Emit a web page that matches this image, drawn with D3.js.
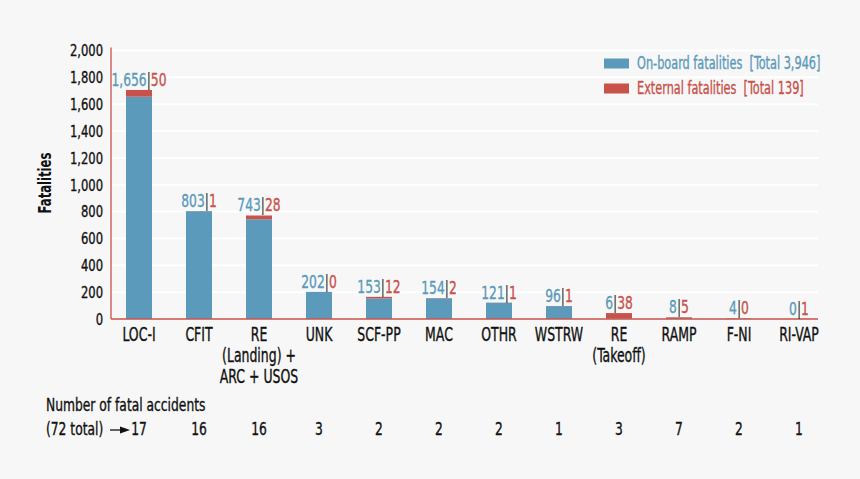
<!DOCTYPE html>
<html><head><meta charset="utf-8">
<script src="https://cdnjs.cloudflare.com/ajax/libs/d3/7.8.5/d3.min.js"></script>
<style>
html,body{margin:0;padding:0;background:#f7f7f7;}
svg text{font-family:"DejaVu Sans",sans-serif;font-stretch:condensed;stroke-width:0.35px;}
</style></head>
<body><svg id="c" width="860" height="479"></svg>
<script>
const categories = ["LOC-I","CFIT","RE\n(Landing) +\nARC + USOS","UNK","SCF-PP","MAC","OTHR","WSTRW","RE\n(Takeoff)","RAMP","F-NI","RI-VAP"];
const onboard = [1656,803,743,202,153,154,121,96,6,8,4,0];
const external = [50,1,28,0,12,2,1,1,38,5,0,1];
const accidents = [17,16,16,3,2,2,2,1,3,7,2,1];
const yTicks = [0,200,400,600,800,1000,1200,1400,1600,1800,2000];
const legendLabels = ["On-board fatalities\u00a0\u00a0[Total 3,946]","External fatalities\u00a0\u00a0[Total 139]"];

const BLUE="#5b9aba", RED="#c8524a", AXIS="#c8524a", INK="#111";
const svg=d3.select("#c");
svg.append("rect").attr("width",860).attr("height",479).attr("fill","#f7f7f7");

function squeeze(sel,s){
  sel.each(function(){
    const t=d3.select(this);
    const ax=+t.attr("x")||0;
    t.attr("transform",`translate(${ax},0) scale(${s},1) translate(${-ax},0)`);
  });
}

const x=d3.scaleBand().domain(categories).range([109,829]).paddingInner(0.5667).paddingOuter(0.2833);
const y=d3.scaleLinear().domain([0,2000]).range([319,50.5]);
const xEnd=818, xStart=111;
const cx=c=>x(c)+x.bandwidth()/2;

svg.append("g").selectAll("line").data(yTicks.slice(1)).join("line")
  .attr("x1",xStart).attr("x2",xEnd).attr("y1",d=>y(d)).attr("y2",d=>y(d))
  .attr("stroke","#ffffff").attr("stroke-width",2);

const yAxis=d3.axisLeft(y).tickValues(yTicks).tickSize(0).tickPadding(8).tickFormat(d3.format(","));
const gy=svg.append("g").attr("transform",`translate(${xStart},0)`).call(yAxis);
gy.attr("font-family",null).attr("font-size",null);
gy.select(".domain").attr("stroke",AXIS).attr("stroke-width",1.3).attr("d",`M0,${y(2000)-3}V${y(0)}`);
gy.selectAll("text").attr("font-size",16.5).attr("fill",INK).attr("stroke",INK);
squeeze(gy.selectAll("text"),0.78);

svg.append("text").attr("transform","translate(51,183) rotate(-90) scale(0.72,1)").attr("text-anchor","middle")
  .attr("font-size",18).attr("font-weight","bold").attr("fill",INK).text("Fatalities");

const data=categories.map((c,i)=>({c,on:onboard[i],ex:external[i],acc:accidents[i]}));
const bars=svg.append("g");
bars.selectAll("rect.on").data(data).join("rect").attr("class","on")
  .attr("x",d=>x(d.c)).attr("width",x.bandwidth())
  .attr("y",d=>y(d.on)).attr("height",d=>y(0)-y(d.on)).attr("fill",BLUE);
bars.selectAll("rect.ex").data(data).join("rect").attr("class","ex")
  .attr("x",d=>x(d.c)).attr("width",x.bandwidth())
  .attr("y",d=>y(d.on+d.ex)).attr("height",d=>y(d.on)-y(d.on+d.ex)).attr("fill",RED);

svg.append("line").attr("x1",xStart).attr("x2",xEnd).attr("y1",y(0)).attr("y2",y(0))
  .attr("stroke",AXIS).attr("stroke-width",1.3);

const fmt=d3.format(",");
const vl=svg.append("g").selectAll("text").data(data).join("text")
  .attr("x",d=>cx(d.c)).attr("y",d=>y(d.on+d.ex)-4)
  .attr("text-anchor","middle").attr("font-size",18);
vl.append("tspan").attr("fill",BLUE).attr("stroke",BLUE).text(d=>fmt(d.on));
vl.append("tspan").attr("fill","#222").text("|");
vl.append("tspan").attr("fill",RED).attr("stroke",RED).text(d=>fmt(d.ex));
squeeze(vl,0.76);

const cl=svg.append("g").selectAll("text").data(data).join("text")
  .attr("x",d=>cx(d.c)).attr("y",341)
  .attr("text-anchor","middle").attr("font-size",19).attr("fill",INK).attr("stroke",INK);
cl.selectAll("tspan").data(d=>d.c.split("\n").map(t=>({t,x:cx(d.c)}))).join("tspan")
  .attr("x",d=>d.x).attr("dy",(d,i)=>i?21:0).text(d=>d.t);
squeeze(cl,0.73);

const bt=svg.append("g").attr("fill",INK).attr("stroke",INK).attr("font-size",18);
bt.append("text").attr("x",46).attr("y",411.5).text("Number of fatal accidents");
bt.append("text").attr("x",46).attr("y",435).text("(72 total)");
bt.selectAll("text.acc").data(data).join("text").attr("class","acc")
  .attr("x",d=>cx(d.c)).attr("y",435).attr("text-anchor","middle").text(d=>d.acc);
squeeze(bt.selectAll("text"),0.76);
svg.append("line").attr("x1",110).attr("x2",122).attr("y1",430).attr("y2",430).attr("stroke",INK).attr("stroke-width",1.3);
svg.append("path").attr("d","M120,426.5L130,430L120,433.5Z").attr("fill",INK);

const lg=svg.append("g");
[BLUE,RED].forEach((col,i)=>{
  lg.append("rect").attr("x",604).attr("y",58.5+i*25).attr("width",25).attr("height",10).attr("fill",col);
  lg.append("text").attr("x",637).attr("y",69+i*25.5).attr("font-size",17).attr("fill",col).attr("stroke",col).text(legendLabels[i]);
});
squeeze(lg.selectAll("text"),0.74);
</script></body></html>
